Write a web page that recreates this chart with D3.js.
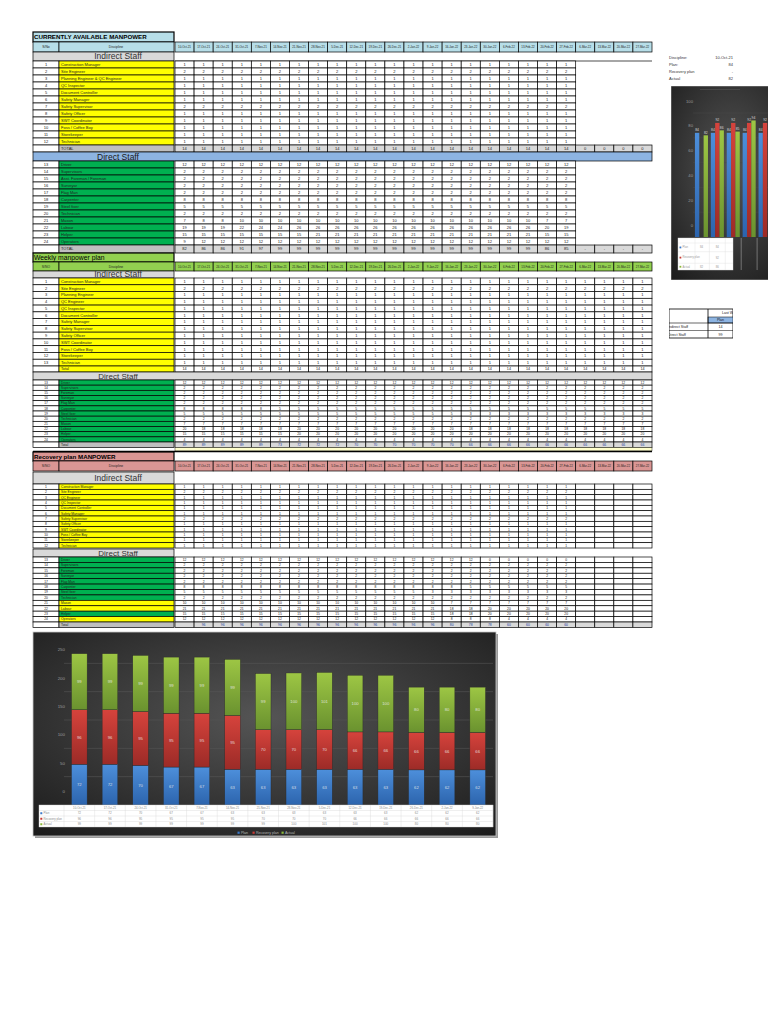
<!DOCTYPE html>
<html><head><meta charset="utf-8">
<script src="https://cdn.jsdelivr.net/npm/d3@7"></script>
<style>body{margin:0;background:#fff}svg{display:block}text{font-family:"Liberation Sans",Arial,sans-serif}</style>
</head><body><svg width="768" height="1024"></svg>
<script>
// ---------------- DATA ----------------
const dates = ["10-Oct-21","17-Oct-21","24-Oct-21","31-Oct-21","7-Nov-21","14-Nov-21","21-Nov-21","28-Nov-21","5-Dec-21","12-Dec-21","19-Dec-21","26-Dec-21","2-Jan-22","9-Jan-22","16-Jan-22","23-Jan-22","30-Jan-22","6-Feb-22","13-Feb-22","20-Feb-22","27-Feb-22","6-Mar-22","13-Mar-22","20-Mar-22","27-Mar-22"];

const availIndNames = ["Construction Manager","Site Engineer","Planning Engineer & QC Engineer","QC Inspector","Document Controller","Safety Manager","Safety Supervisor","Safety Officer","SWT Coordinator","Foss / Coffee Boy","Storekeeper","Technician"];
const availIndVals = [
"1 1 1 1 1 1 1 1 1 1 1 1 1 1 1 1 1 1 1 1 1",
"2 2 2 2 2 2 2 2 2 2 2 2 2 2 2 2 2 2 2 2 2",
"1 1 1 1 1 1 1 1 1 1 1 1 1 1 1 1 1 1 1 1 1",
"1 1 1 1 1 1 1 1 1 1 1 1 1 1 1 1 1 1 1 1 1",
"1 1 1 1 1 1 1 1 1 1 1 1 1 1 1 1 1 1 1 1 1",
"1 1 1 1 1 1 1 1 1 1 1 1 1 1 1 1 1 1 1 1 1",
"2 2 2 2 2 2 2 2 2 2 2 2 2 2 2 2 2 2 2 2 2",
"1 1 1 1 1 1 1 1 1 1 1 1 1 1 1 1 1 1 1 1 1",
"1 1 1 1 1 1 1 1 1 1 1 1 1 1 1 1 1 1 1 1 1",
"1 1 1 1 1 1 1 1 1 1 1 1 1 1 1 1 1 1 1 1 1",
"1 1 1 1 1 1 1 1 1 1 1 1 1 1 1 1 1 1 1 1 1",
"1 1 1 1 1 1 1 1 1 1 1 1 1 1 1 1 1 1 1 1 1"];
const availIndTotal = "14 14 14 14 14 14 14 14 14 14 14 14 14 14 14 14 14 14 14 14 14 0 0 0 0";

const availDirNames = ["Driver","Supervisors","Asst. Foreman / Foreman","Surveyor","Flag Man","Carpenter","Steel fixer","Technician","Mason","Labour","Helper","Operators"];
const availDirSno = ["13","14","15","16","17","18","19","20","21","22","23","24"];
const availDirVals = [
"12 12 12 12 12 12 12 12 12 12 12 12 12 12 12 12 12 12 12 12 12",
"2 2 2 2 2 2 2 2 2 2 2 2 2 2 2 2 2 2 2 2 2",
"2 2 2 2 2 2 2 2 2 2 2 2 2 2 2 2 2 2 2 2 2",
"2 2 2 2 2 2 2 2 2 2 2 2 2 2 2 2 2 2 2 2 2",
"2 2 2 2 2 2 2 2 2 2 2 2 2 2 2 2 2 2 2 2 2",
"8 8 8 8 8 8 8 8 8 8 8 8 8 8 8 8 8 8 8 8 8",
"5 5 5 5 5 5 5 5 5 5 5 5 5 5 5 5 5 5 5 5 5",
"2 2 2 2 2 2 2 2 2 2 2 2 2 2 2 2 2 2 2 2 2",
"7 8 8 10 10 10 10 10 10 10 10 10 10 10 10 10 10 10 10 7 7",
"19 19 19 22 24 24 26 26 26 26 26 26 26 26 26 26 26 26 26 20 19",
"15 15 15 15 15 15 15 21 21 21 21 21 21 21 21 21 21 21 21 15 15",
"9 12 12 12 12 12 12 12 12 12 12 12 12 12 12 12 12 12 12 12 12"];
const availDirTotal = "82 86 86 91 97 99 99 99 99 99 99 99 99 99 99 99 99 99 99 86 85 - - - -";

const weekIndNames = ["Construction Manager","Site Engineer","Planning Engineer","QC Engineer","QC Inspector","Document Controller","Safety Manager","Safety Supervisor","Safety Officer","SWT Coordinator","Foss / Coffee Boy","Storekeeper","Technician"];
const weekIndVals = [
"1 1 1 1 1 1 1 1 1 1 1 1 1 1 1 1 1 1 1 1 1 1 1 1 1",
"2 2 2 2 2 2 2 2 2 2 2 2 2 2 2 2 2 2 2 2 2 2 2 2 2",
"1 1 1 1 1 1 1 1 1 1 1 1 1 1 1 1 1 1 1 1 1 1 1 1 1",
"1 1 1 1 1 1 1 1 1 1 1 1 1 1 1 1 1 1 1 1 1 1 1 1 1",
"1 1 1 1 1 1 1 1 1 1 1 1 1 1 1 1 1 1 1 1 1 1 1 1 1",
"1 1 1 1 1 1 1 1 1 1 1 1 1 1 1 1 1 1 1 1 1 1 1 1 1",
"1 1 1 1 1 1 1 1 1 1 1 1 1 1 1 1 1 1 1 1 1 1 1 1 1",
"1 1 1 1 1 1 1 1 1 1 1 1 1 1 1 1 1 1 1 1 1 1 1 1 1",
"1 1 1 1 1 1 1 1 1 1 1 1 1 1 1 1 1 1 1 1 1 1 1 1 1",
"1 1 1 1 1 1 1 1 1 1 1 1 1 1 1 1 1 1 1 1 1 1 1 1 1",
"1 1 1 1 1 1 1 1 1 1 1 1 1 1 1 1 1 1 1 1 1 1 1 1 1",
"1 1 1 1 1 1 1 1 1 1 1 1 1 1 1 1 1 1 1 1 1 1 1 1 1",
"1 1 1 1 1 1 1 1 1 1 1 1 1 1 1 1 1 1 1 1 1 1 1 1 1"];
const weekIndTotal = "14 14 14 14 14 14 14 14 14 14 14 14 14 14 14 14 14 14 14 14 14 14 14 14 14";

const weekDirNames = ["Driver","Supervisors","Foreman","Surveyor","Flag Man","Carpenter","Steel fixer","Technician","Mason","Labour","Helper","Operators"];
const weekDirVals = [
"12 12 12 12 12 12 12 12 12 12 12 12 12 12 12 12 12 12 12 12 12 12 12 12 12",
"2 2 2 2 2 2 2 2 2 2 2 2 2 2 2 2 2 2 2 2 2 2 2 2 2",
"2 2 2 2 2 2 2 2 2 2 2 2 2 2 2 2 2 2 2 2 2 2 2 2 2",
"2 2 2 2 2 2 2 2 2 2 2 2 2 2 2 2 2 2 2 2 2 2 2 2 2",
"2 2 2 2 2 2 2 2 2 2 2 2 2 2 2 2 2 2 2 2 2 2 2 2 2",
"8 8 8 8 8 5 5 5 5 5 5 5 5 5 5 5 5 5 5 5 5 5 5 5 5",
"5 5 5 5 5 5 5 5 5 5 5 5 5 5 5 3 3 3 3 3 3 3 3 3 3",
"2 2 2 2 2 2 2 2 2 2 2 2 2 2 2 2 2 2 2 2 2 2 2 2 2",
"7 7 7 7 7 7 7 7 7 7 7 7 7 7 7 7 7 7 7 7 7 7 7 7 7",
"20 18 18 18 18 18 20 20 20 20 20 20 20 20 20 18 18 18 18 18 18 18 18 18 18",
"15 15 15 15 15 15 20 20 20 20 20 20 20 20 20 20 20 20 20 20 20 20 20 20 20",
"4 4 4 4 4 4 4 4 4 4 4 4 4 4 4 4 4 4 4 4 4 4 4 4 4"];
const weekDirTotal = "89 89 89 89 89 73 72 72 72 70 70 70 70 70 70 66 66 66 66 66 66 66 66 66 66";

const recIndNames = ["Construction Manager","Site Engineer","QC Engineer","QC Inspector","Document Controller","Safety Manager","Safety Supervisor","Safety Officer","SWT Coordinator","Foss / Coffee Boy","Storekeeper","Technician"];
const recIndVals = [
"1 1 1 1 1 1 1 1 1 1 1 1 1 1 1 1 1 1 1 1 1",
"2 2 2 2 2 2 2 2 2 2 2 2 2 2 2 2 2 2 2 2 2",
"1 1 1 1 1 1 1 1 1 1 1 1 1 1 1 1 1 1 1 1 1",
"1 1 1 1 1 1 1 1 1 1 1 1 1 1 1 1 1 1 1 1 1",
"1 1 1 1 1 1 1 1 1 1 1 1 1 1 1 1 1 1 1 1 1",
"1 1 1 1 1 1 1 1 1 1 1 1 1 1 1 1 1 1 1 1 1",
"2 2 2 2 2 2 2 2 2 2 2 2 2 2 2 2 2 2 2 2 2",
"1 1 1 1 1 1 1 1 1 1 1 1 1 1 1 1 1 1 1 1 1",
"1 1 1 1 1 1 1 1 1 1 1 1 1 1 1 1 1 1 1 1 1",
"1 1 1 1 1 1 1 1 1 1 1 1 1 1 1 1 1 1 1 1 1",
"1 1 1 1 1 1 1 1 1 1 1 1 1 1 1 1 1 1 1 1 1",
"1 1 1 1 1 1 1 1 1 1 1 1 1 1 1 1 1 1 1 1 1"];

const recDirNames = ["Driver","Supervisors","Foreman","Surveyor","Flag Man","Carpenter","Steel fixer","Technician","Mason","Labour","Helper","Operators"];
const recDirHighlight = [false,false,false,false,false,false,false,false,true,true,false,true];
const recDirVals = [
"12 12 12 12 12 12 12 12 12 12 12 12 12 12 12 12 0 0 0 0 0",
"2 2 2 2 2 2 2 2 2 2 2 2 2 2 2 2 2 2 2 2 2",
"2 2 2 2 2 2 2 2 2 2 2 2 2 2 2 2 2 2 2 2 2",
"2 2 2 2 2 2 2 2 2 2 2 2 2 2 2 2 2 2 2 2 2",
"2 2 2 2 2 2 2 2 2 2 2 2 2 2 2 2 2 2 2 2 2",
"8 8 8 8 8 8 8 8 8 8 8 8 8 8 8 5 5 5 5 5 5",
"5 5 5 5 5 5 5 5 5 5 5 5 5 3 3 3 3 3 3 3 3",
"2 2 2 2 2 2 2 2 2 2 2 2 2 2 2 2 2 2 2 2 2",
"10 10 10 10 10 10 10 10 10 10 10 10 10 10 7 7 7 7 7 7 7",
"21 21 21 21 21 21 21 21 21 21 21 21 21 21 18 18 20 20 20 20 20",
"15 15 15 15 15 15 15 15 15 15 15 15 15 15 18 18 20 20 20 20 20",
"12 12 12 12 12 12 12 12 12 12 12 12 12 12 8 8 8 4 4 4 4"];
const recDirTotal = " 96 96 96 96 96 96 96 96 96 96 96 96 96 80 78 78 60 60 60 60";

// stacked chart
const chartWeeks = ["10-Oct-21","17-Oct-21","24-Oct-21","31-Oct-21","7-Nov-21","14-Nov-21","21-Nov-21","28-Nov-21","5-Dec-21","12-Dec-21","19-Dec-21","26-Dec-21","2-Jan-22","9-Jan-22"];
const planVals     = [72,72,70,67,67,63,63,63,63,63,63,62,62,62];
const recoveryVals = [96,96,95,95,95,95,70,70,70,66,66,66,66,66];
const actualVals   = [99,99,99,99,99,99,99,100,101,100,100,80,80,80];
const seriesNames  = ["Plan","Recovery plan","Actual"];
const yTicks = [0,50,100,150,200,250];

// side chart
const sideWeeks = ["10-Oct-21","17-Oct-21","24-Oct-21","31-Oct-21","7-Nov-21","14-Nov-21"];
const sidePlan = [84,84,84,84,84,84];
const sideRecovery = [null,92,92,92,92,92];
const sideActual = [82,86,85,94,null,null];
const sideTicks = [0,20,40,60,80,100];
const sideInfoLabels = ["Discipline:","Plan:","Recovery plan","Actual"];
const sideInfoValues = ["10-Oct-21","84","-","82"];
const lastWeekRows = ["Indirect Staff","Direct Staff"];
const lastWeekVals = ["14","99"];

// ---------------- DRAW ----------------
const svg = d3.select("svg");
const defs = svg.append("defs");
const xCol = d3.scaleBand().domain(dates).range([175, 652]);
const cw = xCol.bandwidth();

function rect(x,y,w,h,fill,sw=0.7,stroke="#000"){
  return svg.append("rect").attr("x",x).attr("y",y).attr("width",w).attr("height",h)
    .attr("fill",fill).attr("stroke",stroke).attr("stroke-width",sw);
}
function txt(x,yc,t,size,anchor="middle",fill="#222",weight="normal",parent=svg){
  return parent.append("text").attr("x",x).attr("y",yc+size*0.36).attr("font-size",size)
    .attr("text-anchor",anchor).attr("fill",fill).attr("font-weight",weight).text(t);
}
function header(y,h,fill,snoLabel){
  rect(33,y,26,h,fill); txt(46,y+h/2,snoLabel,3.4);
  rect(59,y,115,h,fill); txt(116,y+h/2,"Discipline",3.4);
  dates.forEach(d=>{ rect(xCol(d),y,cw,h,fill); txt(xCol(d)+cw/2,y+h/2,d,2.9); });
}
function section(y0,y1,snos,names,fills,vals,o={}){
  const yb = d3.scaleBand().domain(d3.range(names.length)).range([y0,y1]);
  const h = yb.bandwidth(); const fs = o.fs || Math.min(4,h*0.62);
  names.forEach((nm,i)=>{
    const y = yb(i);
    rect(33,y,26,h,o.snoFill||"#fff"); txt(46,y+h/2,snos[i]||"",fs);
    rect(59,y,115,h,fills[i]); txt(61,y+h/2,nm,fs,"start");
    const row = vals[i] ? vals[i].split(" ") : [];
    dates.forEach((d,j)=>{
      if (j < row.length) { rect(xCol(d),y,cw,h,o.valFill||"#fff"); txt(xCol(d)+cw/2,y+h/2,row[j],fs,"middle",o.valColor||"#222"); }
      else if (o.empty) rect(xCol(d),y,cw,h,o.emptyFill||"#fff");
    });
  });
}
const nums = n => d3.range(1,n+1).map(String);
const fillArr = (n,c) => d3.range(n).map(()=>c);

// ===== Table 1: Currently available manpower =====
rect(33,32,141,10,"#b7dee8",1.2);
txt(34,37,"CURRENTLY AVAILABLE MANPOWER",6.2,"start","#000","bold");
header(42,10,"#b7dee8","S/No");
rect(33,52,141,9,"#d9d9d9"); txt(118,56,"Indirect Staff",8.5,"middle","#333");
svg.append("line").attr("x1",175).attr("x2",652).attr("y1",61).attr("y2",61).attr("stroke","#000").attr("stroke-width",0.7);
section(61,145,nums(12),availIndNames,fillArr(12,"#ffff00"),availIndVals);
section(145,152,[""],["TOTAL"],["#bfbfbf"],[availIndTotal],{valFill:"#d9d9d9",snoFill:"#fff"});
rect(33,152,619,9,"#8db4e2"); txt(118,157,"Direct Staff",8.5,"middle","#1a1a1a");
section(161,245,availDirSno,availDirNames,fillArr(12,"#00b050"),availDirVals);
section(245,253,[""],["TOTAL"],["#bfbfbf"],[availDirTotal],{valFill:"#d9d9d9"});

// ===== Table 2: Weekly manpower plan =====
rect(33,253,141,9,"#92d050",1.2); txt(34,257.5,"Weekly manpower plan",6.8,"start","#000");
header(262,9,"#92d050","S/NO");
rect(33,271,141,7,"#d9d9d9"); txt(118,273.5,"Indirect Staff",8.5,"middle","#333");
section(278,366,nums(13),weekIndNames,fillArr(13,"#ffff00"),weekIndVals);
section(366,372,[""],["Total"],["#ffff00"],[weekIndTotal]);
rect(33,372,619,8,"#d9d9d9"); txt(118,376,"Direct Staff",8,"middle","#333");
section(380,442,availDirSno,weekDirNames,fillArr(12,"#00b050"),weekDirVals,{fs:3.3});
section(442,447.5,[""],["Total"],["#bfbfbf"],[weekDirTotal],{valFill:"#d9d9d9",valColor:"#1f3fa0",fs:3.4});
rect(175,447.5,477,3.5,"#ffffcc",0.4);
svg.append("line").attr("x1",33).attr("x2",652).attr("y1",451.5).attr("y2",451.5).attr("stroke","#000").attr("stroke-width",1.6);

// ===== Table 3: Recovery plan =====
rect(33,452,141,9,"#da9694",1.2); txt(34,456.5,"Recovery plan  MANPOWER",6.2,"start","#000","bold");
header(461,10,"#da9694","S/NO");
rect(33,472,141,12,"#d9d9d9"); txt(118,478,"Indirect Staff",8.5,"middle","#333");
section(484,548,nums(12),recIndNames,fillArr(12,"#ffff00"),recIndVals,{empty:true});
rect(33,549,141,8,"#d9d9d9"); txt(118,553,"Direct Staff",8,"middle","#333");
section(557,622,availDirSno,recDirNames,recDirHighlight.map(h=>h?"#ffff00":"#00b050"),recDirVals,{empty:true,fs:3.3});
section(622,627.5,[""],["Total"],["#bfbfbf"],[recDirTotal],{valFill:"#d9d9d9",valColor:"#1f3fa0",empty:true,emptyFill:"#d9d9d9",fs:3.4});

// ===== Main stacked chart =====
const bg = defs.append("radialGradient").attr("id","bg").attr("cx","50%").attr("cy","42%").attr("r","75%");
bg.append("stop").attr("offset","0%").attr("stop-color","#555");
bg.append("stop").attr("offset","100%").attr("stop-color","#1c1c1c");
const gcol = {"Plan":["#4d8fdb","#2c64ad"],"Recovery plan":["#d6433c","#9c2b27"],"Actual":["#9dc644","#6a922f"]};
Object.entries(gcol).forEach(([k,c],i)=>{
  const g = defs.append("linearGradient").attr("id","g"+i).attr("x1",0).attr("y1",0).attr("x2",0).attr("y2",1);
  g.append("stop").attr("offset","0%").attr("stop-color",c[0]);
  g.append("stop").attr("offset","100%").attr("stop-color",c[1]);
});
svg.append("rect").attr("x",35).attr("y",634).attr("width",463).attr("height",204).attr("fill","#9a9a9a");
rect(33,632,463,204,"url(#bg)",0.8,"#c8c8c8");

const x = d3.scaleBand().domain(chartWeeks).range([64,493]).paddingInner(0.49).paddingOuter(0.245);
const y = d3.scaleLinear().domain([0,300]).range([805,635]);
const half = (y(0)-y(50))/2;
const chart = svg.append("g");
chart.selectAll("line.grid").data([50,100,150,200,250]).join("line").attr("class","grid")
  .attr("x1",64).attr("x2",493).attr("y1",d=>y(d)).attr("y2",d=>y(d)).attr("stroke","#565656").attr("stroke-width",0.6);
const yAxis = chart.append("g").attr("transform","translate(66,0)")
  .call(d3.axisLeft(y).tickValues(yTicks).tickSize(0).tickPadding(1));
yAxis.select(".domain").remove();
yAxis.selectAll("text").attr("fill","#9a9a9a").attr("font-size",4.4).attr("dy",-half+1.5);

const rows = chartWeeks.map((w,i)=>({week:w,"Plan":planVals[i],"Recovery plan":recoveryVals[i],"Actual":actualVals[i]}));
const stack = d3.stack().keys(seriesNames)(rows);
stack.forEach((s,si)=>{
  const g = chart.append("g");
  g.selectAll("rect").data(s).join("rect")
    .attr("x",d=>x(d.data.week)).attr("width",x.bandwidth())
    .attr("y",d=>y(d[1])).attr("height",d=>y(d[0])-y(d[1]))
    .attr("fill",`url(#g${si})`).attr("stroke","#2a2a2a").attr("stroke-width",0.4);
  g.selectAll("text").data(s).join("text")
    .attr("x",d=>x(d.data.week)+x.bandwidth()/2).attr("y",d=>(y(d[0])+y(d[1]))/2+1.5)
    .attr("text-anchor","middle").attr("font-size",4.2).attr("fill","#eeeeee").attr("fill-opacity",0.85)
    .text(d=>d.data[s.key]);
});
// data table
const tY = [805,810.5,816,821.5,827];
rect(39,805,454,22,"#fff",0.4,"#d0d0d0");
tY.slice(1,4).forEach(v=>svg.append("line").attr("x1",39).attr("x2",493).attr("y1",v).attr("y2",v).attr("stroke","#d6d6d6").attr("stroke-width",0.4));
[64].concat(chartWeeks.map(w=>x(w)-x.step()*x.paddingInner()/2+x.step())).forEach(v=>svg.append("line").attr("x1",v).attr("x2",v).attr("y1",805).attr("y2",827).attr("stroke","#d6d6d6").attr("stroke-width",0.4));
chartWeeks.forEach((w,i)=>{
  const cx = x(w)+x.bandwidth()/2;
  txt(cx,807.8,w,2.8,"middle","#8c8c8c");
  [planVals,recoveryVals,actualVals].forEach((arr,k)=>txt(cx,(tY[k+1]+tY[k+2])/2,arr[i],3,"middle","#8c8c8c"));
});
const legCols = ["#3a78c9","#c83a34","#8ab83a"];
seriesNames.forEach((n,k)=>{
  const yc=(tY[k+1]+tY[k+2])/2;
  svg.append("rect").attr("x",40.3).attr("y",yc-1).attr("width",2).attr("height",2).attr("fill",legCols[k]);
  txt(43.5,yc,n,2.9,"start","#8c8c8c");
});
// legend
const legX = [237.5,252.5,281.5];
seriesNames.forEach((n,k)=>{
  svg.append("rect").attr("x",legX[k]).attr("y",831.6).attr("width",2.2).attr("height",2.2).attr("fill",legCols[k]);
  txt(legX[k]+3.4,832.7,n,3.6,"start","#b5b5b5");
});

// ===== Side info text =====
sideInfoLabels.forEach((l,i)=>{
  txt(669,58+i*7,l,4,"start","#333");
  txt(733,58+i*7,sideInfoValues[i],4,"end","#333");
});

// ===== Side clustered chart =====
defs.append("clipPath").attr("id","sideclip").append("rect").attr("x",671).attr("y",86).attr("width",97).attr("height",194);
const side = svg.append("g").attr("clip-path","url(#sideclip)");
side.append("rect").attr("x",671).attr("y",86).attr("width",120).attr("height",194).attr("fill","url(#bg)").attr("stroke","#bbb").attr("stroke-width",0.6);
side.append("line").attr("x1",700).attr("x2",740).attr("y1",89.5).attr("y2",89.5).attr("stroke","#555").attr("stroke-width",0.6);
const xs = d3.scaleBand().domain(sideWeeks).range([693.5,693.5+15.9*sideWeeks.length]).paddingInner(0.18).paddingOuter(0.09);
const xi = d3.scaleBand().domain(seriesNames).range([0,xs.bandwidth()]);
const ys = d3.scaleLinear().domain([0,100]).range([237,113]);
const sHalf = (ys(0)-ys(20))/2;
side.selectAll("line.g").data([20,40,60,80,100]).join("line").attr("x1",693).attr("x2",768).attr("y1",d=>ys(d)).attr("y2",d=>ys(d)).attr("stroke","#4a4a4a").attr("stroke-width",0.5);
const sAx = side.append("g").attr("transform","translate(694,0)").call(d3.axisLeft(ys).tickValues(sideTicks).tickSize(0).tickPadding(1));
sAx.select(".domain").remove();
sAx.selectAll("text").attr("fill","#9a9a9a").attr("font-size",4.2).attr("dy",-sHalf+1.5);
[sidePlan,sideRecovery,sideActual].forEach((arr,k)=>{
  const data = sideWeeks.map((w,i)=>({w,v:arr[i]})).filter(d=>d.v!=null);
  side.selectAll(null).data(data).join("rect")
    .attr("x",d=>xs(d.w)+xi(seriesNames[k])).attr("width",xi.bandwidth())
    .attr("y",d=>ys(d.v)).attr("height",d=>ys(0)-ys(d.v)).attr("fill",`url(#g${k})`);
  side.selectAll(null).data(data).join("text")
    .attr("x",d=>xs(d.w)+xi(seriesNames[k])+xi.bandwidth()/2).attr("y",d=>ys(d.v)-1.8)
    .attr("text-anchor","middle").attr("font-size",3.4).attr("fill","#d8d8d8").text(d=>d.v);
});
// side data table
side.append("rect").attr("x",678).attr("y",238).attr("width",55).attr("height",32).attr("fill","#fff").attr("stroke","#ddd").attr("stroke-width",0.4);
const sRows = [238,243,251.7,263.3,270];
sRows.slice(1,4).forEach(v=>side.append("line").attr("x1",678).attr("x2",733).attr("y1",v).attr("y2",v).attr("stroke","#ddd").attr("stroke-width",0.4));
[695].concat(sideWeeks.map(w=>xs(w)+xs.step()*(1-0.09))).forEach(v=>side.append("line").attr("x1",v).attr("x2",v).attr("y1",238).attr("y2",270).attr("stroke","#ddd").attr("stroke-width",0.4));
seriesNames.forEach((n,k)=>{
  const yc=(sRows[k+1]+sRows[k+2])/2;
  side.append("rect").attr("x",679.5).attr("y",yc-0.8).attr("width",1.8).attr("height",1.8).attr("fill",legCols[k]);
  txt(682.5,yc,n,2.7,"start","#999","normal",side);
  const arr=[sidePlan,sideRecovery,sideActual][k];
  sideWeeks.slice(0,2).forEach((w,i)=>{ if(arr[i]!=null) txt(xs(w)+xs.bandwidth()/2,yc,arr[i],2.8,"middle","#999","normal",side); });
});

// ===== Last week table =====
defs.append("clipPath").attr("id","lwclip").append("rect").attr("x",669).attr("y",305).attr("width",64).attr("height",40);
const lw = svg.append("g").attr("clip-path","url(#lwclip)");
lw.append("rect").attr("x",669).attr("y",309).attr("width",64).attr("height",29).attr("fill","#fff").attr("stroke","#000").attr("stroke-width",0.8);
lw.append("rect").attr("x",708).attr("y",317).attr("width",25).attr("height",6).attr("fill","#8db4e2").attr("stroke","#000").attr("stroke-width",0.5);
lw.append("line").attr("x1",708).attr("x2",708).attr("y1",309).attr("y2",338).attr("stroke","#000").attr("stroke-width",0.8);
lw.append("line").attr("x1",669).attr("x2",733).attr("y1",323).attr("y2",323).attr("stroke","#000").attr("stroke-width",0.6);
lw.append("line").attr("x1",669).attr("x2",733).attr("y1",330.5).attr("y2",330.5).attr("stroke","#000").attr("stroke-width",0.5);
txt(722,313,"Last Week",3.6,"start","#222","normal",lw);
txt(720.5,320,"Plan",3.6,"middle","#222","normal",lw);
lastWeekRows.forEach((r,i)=>{
  txt(668,326.8+i*7.5,r,3.6,"start","#222","normal",lw);
  txt(720.5,326.8+i*7.5,lastWeekVals[i],3.6,"middle","#222","normal",lw);
});
</script></body></html>
